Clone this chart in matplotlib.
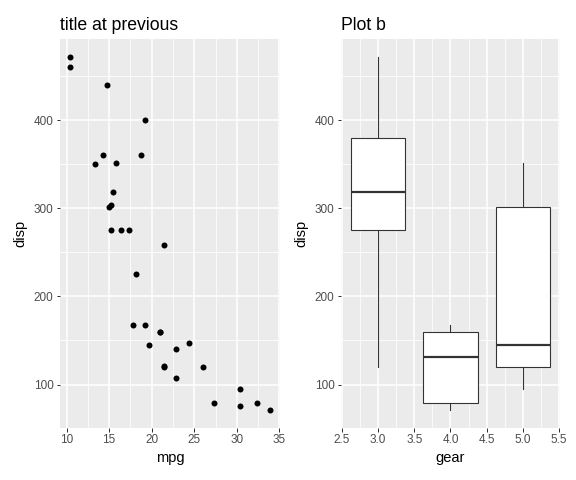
import numpy as np
import matplotlib
matplotlib.use("Agg")
import matplotlib.pyplot as plt
from matplotlib.ticker import MultipleLocator

# mtcars columns
mpg = [21.0, 21.0, 22.8, 21.4, 18.7, 18.1, 14.3, 24.4, 22.8, 19.2, 17.8, 16.4, 17.3, 15.2, 10.4, 10.4,
       14.7, 32.4, 30.4, 33.9, 21.5, 15.5, 15.2, 13.3, 19.2, 27.3, 26.0, 30.4, 15.8, 19.7, 15.0, 21.4]
disp = [160, 160, 108, 258, 360, 225, 360, 146.7, 140.8, 167.6, 167.6, 275.8, 275.8, 275.8, 472, 460,
        440, 78.7, 75.7, 71.1, 120.1, 318, 304, 350, 400, 79, 120.3, 95.1, 351, 145, 301, 121]
gear = [4, 4, 4, 3, 3, 3, 3, 4, 4, 4, 4, 3, 3, 3, 3, 3,
        3, 4, 4, 4, 3, 3, 3, 3, 3, 4, 5, 5, 5, 5, 5, 4]
gear_levels = [3, 4, 5]

plt.rcParams['font.family'] = ['Liberation Sans', 'DejaVu Sans']

BG = '#EBEBEB'
TICK_COL = '#4D4D4D'
LINE_COL = '#333333'
PX = 72 / 96  # points per pixel


def style_axes(ax, xmajor, ymajor):
    ax.set_facecolor(BG)
    for sp in ax.spines.values():
        sp.set_visible(False)
    ax.xaxis.set_major_locator(MultipleLocator(xmajor))
    ax.xaxis.set_minor_locator(MultipleLocator(xmajor / 2))
    ax.yaxis.set_major_locator(MultipleLocator(ymajor))
    ax.yaxis.set_minor_locator(MultipleLocator(ymajor / 2))
    ax.grid(which='major', color='white', linewidth=1.5 * PX)
    ax.grid(which='minor', color='white', linewidth=0.8 * PX)
    ax.set_axisbelow(True)
    ax.tick_params(which='major', length=3.5 * PX, width=1.0 * PX, color=LINE_COL,
                   labelsize=8.8, labelcolor=TICK_COL, pad=2.2)
    ax.tick_params(which='minor', length=0)


fig = plt.figure(figsize=(6, 5), dpi=96)

# left panel: scatter
ax1 = fig.add_axes([60 / 576, 1 - 427.7 / 480, 220 / 576, 388.7 / 480])
ax1.scatter(mpg, disp, s=(6 * PX) ** 2, color='black', linewidths=0, zorder=3)
dy = (max(disp) - min(disp)) * 0.05
dx = (max(mpg) - min(mpg)) * 0.05
ax1.set_xlim(min(mpg) - dx, max(mpg) + dx)
ax1.set_ylim(min(disp) - dy, max(disp) + dy)
style_axes(ax1, 5, 100)
ax1.set_xlabel('mpg', fontsize=11, labelpad=4)
ax1.set_ylabel('disp', fontsize=11, labelpad=5)
ax1.set_title('title at previous', loc='left', fontsize=13.2, pad=7)

# right panel: boxplot by gear
ax2 = fig.add_axes([341 / 576, 1 - 427.7 / 480, 219 / 576, 388.7 / 480])
groups = [[d for d, g in zip(disp, gear) if g == lv] for lv in gear_levels]
ax2.boxplot(groups, positions=gear_levels, widths=0.75, patch_artist=True, showcaps=False,
            showfliers=False, manage_ticks=False,
            boxprops=dict(facecolor='white', edgecolor=LINE_COL, linewidth=1.1 * PX),
            whiskerprops=dict(color=LINE_COL, linewidth=1.1 * PX),
            medianprops=dict(color=LINE_COL, linewidth=2.2 * PX),
            zorder=3)
bx = (gear_levels[-1] + 0.375 - (gear_levels[0] - 0.375)) * 0.05
ax2.set_xlim(gear_levels[0] - 0.375 - bx, gear_levels[-1] + 0.375 + bx)
ax2.set_ylim(min(disp) - dy, max(disp) + dy)
style_axes(ax2, 0.5, 100)
ax2.xaxis.set_major_formatter(plt.FuncFormatter(lambda v, p: f'{v:.1f}'))
ax2.set_xlabel('gear', fontsize=11, labelpad=4)
ax2.set_ylabel('disp', fontsize=11, labelpad=5)
ax2.set_title('Plot b', loc='left', fontsize=13.2, pad=7)

fig.savefig('out.png', dpi=96, facecolor='white')
